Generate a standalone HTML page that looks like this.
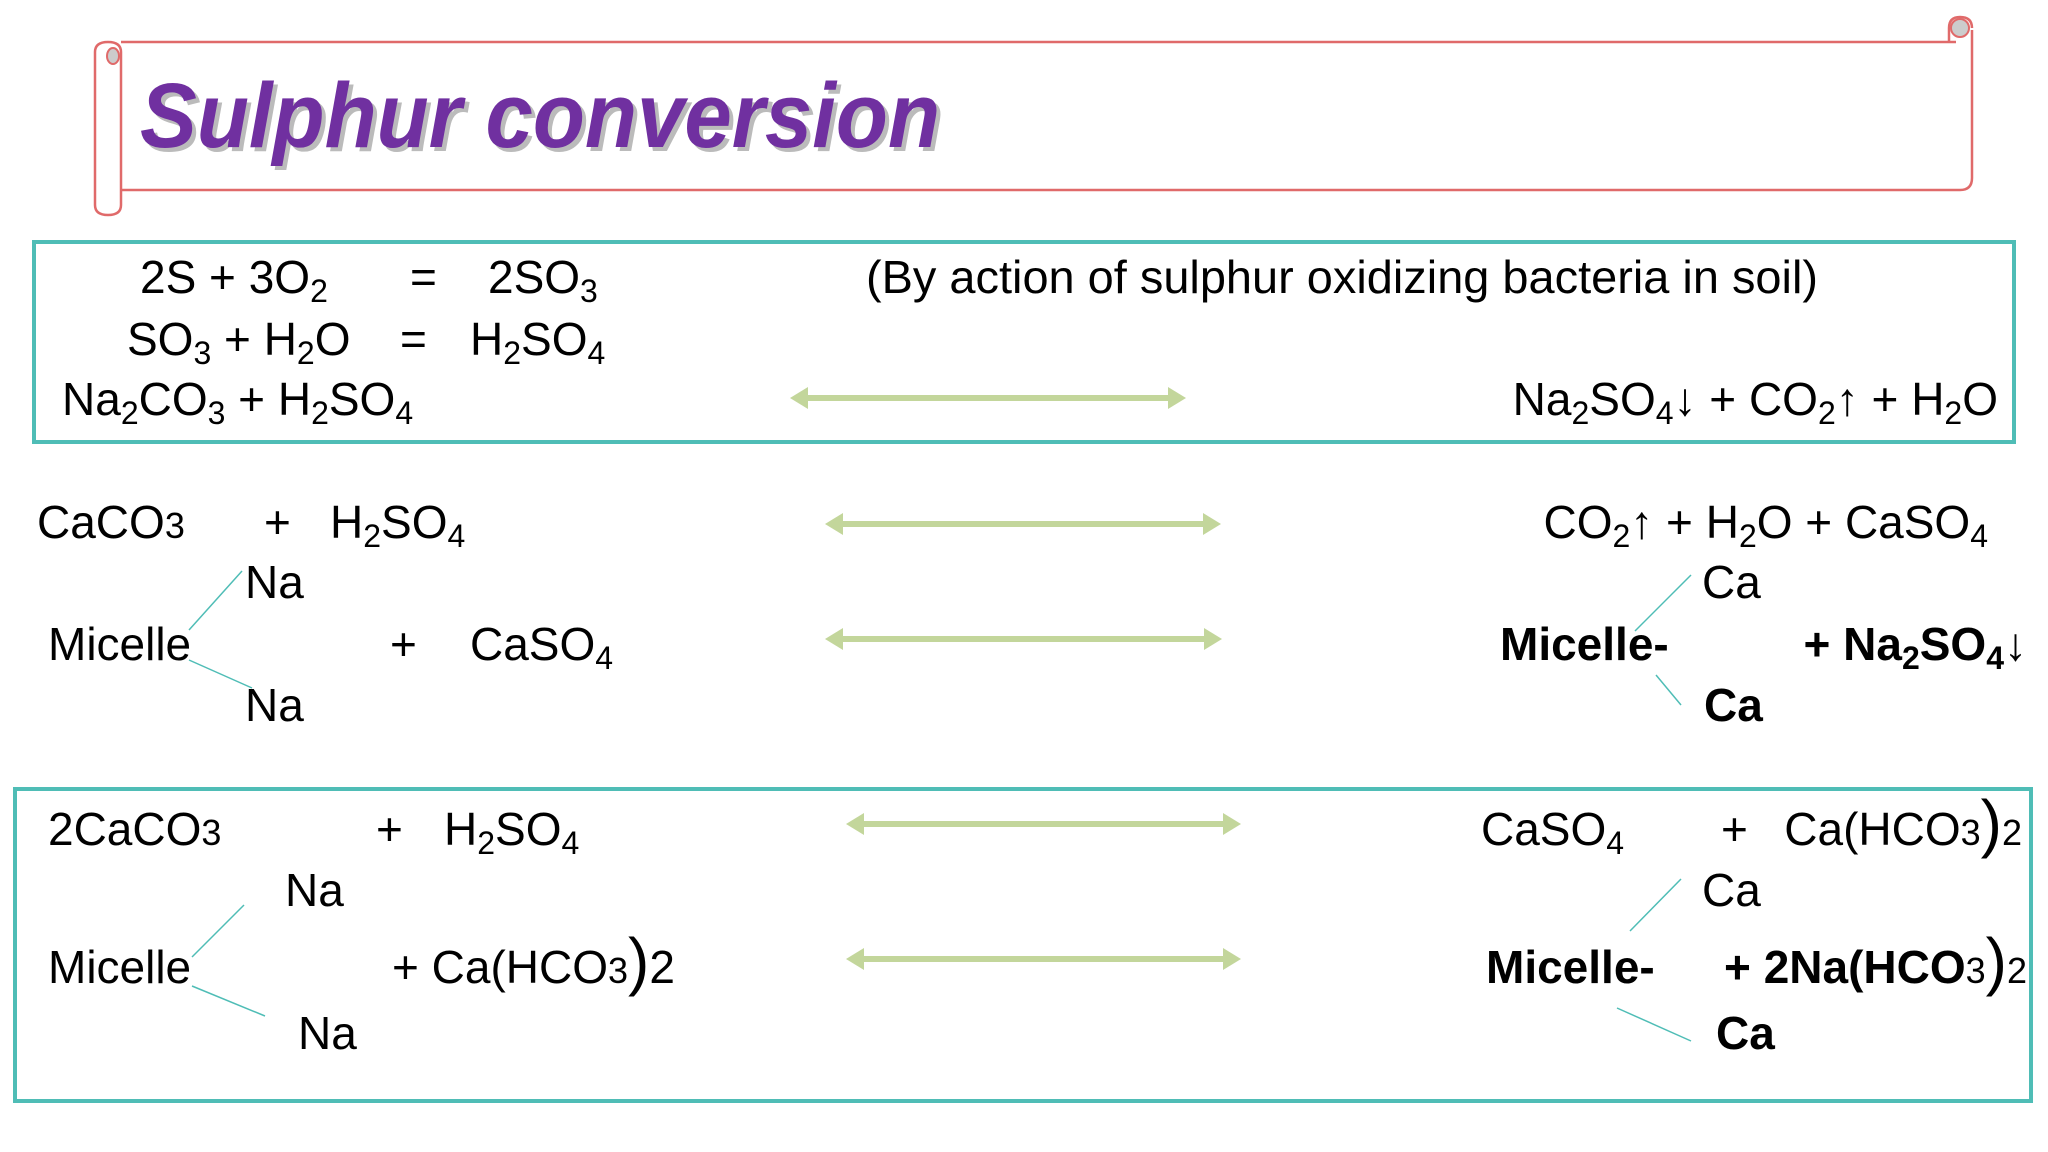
<!DOCTYPE html>
<html><head><meta charset="utf-8"><style>
html,body{margin:0;padding:0;background:#fff;}
svg{display:block;}
text{font-family:"Liberation Sans",Arial,sans-serif;font-size:46px;fill:#000;}
.b{font-weight:bold;}
.e{text-anchor:end;}
</style></head><body>
<svg width="2048" height="1152" viewBox="0 0 2048 1152" xmlns="http://www.w3.org/2000/svg">
<!-- scroll -->
<g fill="none" stroke="#E06A6A" stroke-width="2.5">
<path d="M121,42 H1956"/>
<path d="M121,190 H1960 Q1972,190 1972,178 V30"/>
<path d="M95,52 Q95,42 108,42 Q121,42 121,52 V205 Q121,215 108,215 Q95,215 95,205 Z"/>
<path d="M1949,42 V28 Q1949,17 1960,17 Q1972,17 1972,28"/>
</g>
<ellipse cx="113" cy="56" rx="6" ry="8" fill="#ccc" stroke="#E06A6A" stroke-width="2"/>
<ellipse cx="1960" cy="28" rx="9" ry="9" fill="#ccc" stroke="#E06A6A" stroke-width="2"/>
<text x="144" y="151" style="font-size:92px;font-weight:bold;font-style:italic;fill:#bbb" textLength="800" lengthAdjust="spacingAndGlyphs">Sulphur conversion</text>
<text x="140" y="147" style="font-size:92px;font-weight:bold;font-style:italic;fill:#7030A0" textLength="800" lengthAdjust="spacingAndGlyphs">Sulphur conversion</text>

<!-- boxes -->
<rect x="34" y="242" width="1980" height="200" fill="none" stroke="#4FBDB6" stroke-width="4"/>
<rect x="15" y="789" width="2016" height="312" fill="none" stroke="#4FBDB6" stroke-width="4"/>

<!-- arrows -->
<g stroke="#C3D69B" stroke-width="6">
<line x1="808" y1="398" x2="1168" y2="398"/>
<line x1="842" y1="524" x2="1204" y2="524"/>
<line x1="842" y1="639" x2="1204" y2="639"/>
<line x1="862" y1="824" x2="1224" y2="824"/>
<line x1="862" y1="959" x2="1224" y2="959"/>
</g>
<g fill="#C3D69B">
<polygon points="790,398 808,387 808,409"/><polygon points="1186,398 1168,387 1168,409"/>
<polygon points="825,524 843,513 843,535"/><polygon points="1221,524 1203,513 1203,535"/>
<polygon points="825,639 843,628 843,650"/><polygon points="1222,639 1204,628 1204,650"/>
<polygon points="846,824 864,813 864,835"/><polygon points="1241,824 1223,813 1223,835"/>
<polygon points="846,959 864,948 864,970"/><polygon points="1241,959 1223,948 1223,970"/>
</g>

<!-- connector lines -->
<g stroke="#4FBDB6" stroke-width="1.5">
<line x1="189" y1="630" x2="242" y2="571"/><line x1="189" y1="660" x2="252" y2="688"/>
<line x1="1691" y1="575" x2="1635" y2="631"/><line x1="1656" y1="675" x2="1681" y2="705"/>
<line x1="192" y1="957" x2="244" y2="905"/><line x1="192" y1="986" x2="265" y2="1016"/>
<line x1="1681" y1="879" x2="1630" y2="931"/><line x1="1617" y1="1008" x2="1691" y2="1041"/>
</g>

<!-- box 1 text -->
<text x="140" y="293">2S + 3O<tspan dy="9" font-size="32">2</tspan></text>
<text x="410" y="293">=</text>
<text x="488" y="293">2SO<tspan dy="9" font-size="32">3</tspan></text>
<text x="866" y="293" textLength="952" lengthAdjust="spacingAndGlyphs">(By action of sulphur oxidizing bacteria in soil)</text>
<text x="127" y="355">SO<tspan dy="9" font-size="32">3</tspan><tspan dy="-9"> + H</tspan><tspan dy="9" font-size="32">2</tspan><tspan dy="-9">O</tspan></text>
<text x="400" y="355">=</text>
<text x="470" y="355">H<tspan dy="9" font-size="32">2</tspan><tspan dy="-9">SO</tspan><tspan dy="9" font-size="32">4</tspan></text>
<text x="62" y="415">Na<tspan dy="9" font-size="32">2</tspan><tspan dy="-9">CO</tspan><tspan dy="9" font-size="32">3</tspan><tspan dy="-9"> + H</tspan><tspan dy="9" font-size="32">2</tspan><tspan dy="-9">SO</tspan><tspan dy="9" font-size="32">4</tspan></text>
<text class="e" x="1998" y="415">Na<tspan dy="9" font-size="32">2</tspan><tspan dy="-9">SO</tspan><tspan dy="9" font-size="32">4</tspan><tspan dy="-9">↓ + CO</tspan><tspan dy="9" font-size="32">2</tspan><tspan dy="-9">↑ + H</tspan><tspan dy="9" font-size="32">2</tspan><tspan dy="-9">O</tspan></text>

<!-- middle -->
<text x="37" y="538">CaCO<tspan font-size="36">3</tspan></text>
<text x="264" y="538">+</text>
<text x="330" y="538">H<tspan dy="9" font-size="32">2</tspan><tspan dy="-9">SO</tspan><tspan dy="9" font-size="32">4</tspan></text>
<text class="e" x="1988" y="538">CO<tspan dy="9" font-size="32">2</tspan><tspan dy="-9">↑ + H</tspan><tspan dy="9" font-size="32">2</tspan><tspan dy="-9">O + CaSO</tspan><tspan dy="9" font-size="32">4</tspan></text>
<text x="245" y="598">Na</text>
<text x="48" y="660">Micelle</text>
<text x="390" y="660">+</text>
<text x="470" y="660">CaSO<tspan dy="9" font-size="32">4</tspan></text>
<text x="245" y="721">Na</text>
<text x="1702" y="598">Ca</text>
<text class="b" x="1500" y="660">Micelle-</text>
<text class="b e" x="2027" y="660">+ Na<tspan dy="9" font-size="32">2</tspan><tspan dy="-9">SO</tspan><tspan dy="9" font-size="32">4</tspan><tspan dy="-9">↓</tspan></text>
<text class="b" x="1704" y="721">Ca</text>

<!-- box 2 -->
<text x="48" y="845">2CaCO<tspan font-size="36">3</tspan></text>
<text x="376" y="845">+</text>
<text x="444" y="845">H<tspan dy="9" font-size="32">2</tspan><tspan dy="-9">SO</tspan><tspan dy="9" font-size="32">4</tspan></text>
<text x="1481" y="845">CaSO<tspan dy="9" font-size="32">4</tspan></text>
<text x="1721" y="845">+</text>
<text class="e" x="2022" y="845">Ca(HCO<tspan font-size="36">3</tspan><tspan font-size="64">)</tspan><tspan font-size="36">2</tspan></text>
<text x="285" y="906">Na</text>
<text x="48" y="983">Micelle</text>
<text x="392" y="983">+ Ca(HCO<tspan font-size="36">3</tspan><tspan font-size="64">)</tspan>2</text>
<text x="298" y="1049">Na</text>
<text x="1702" y="906">Ca</text>
<text class="b" x="1486" y="983">Micelle-</text>
<text class="b e" x="2027" y="983">+ 2Na(HCO<tspan font-size="36" font-weight="normal">3</tspan><tspan font-size="64" font-weight="normal">)</tspan><tspan font-size="36" font-weight="normal">2</tspan></text>
<text class="b" x="1716" y="1049">Ca</text>
</svg>
</body></html>
